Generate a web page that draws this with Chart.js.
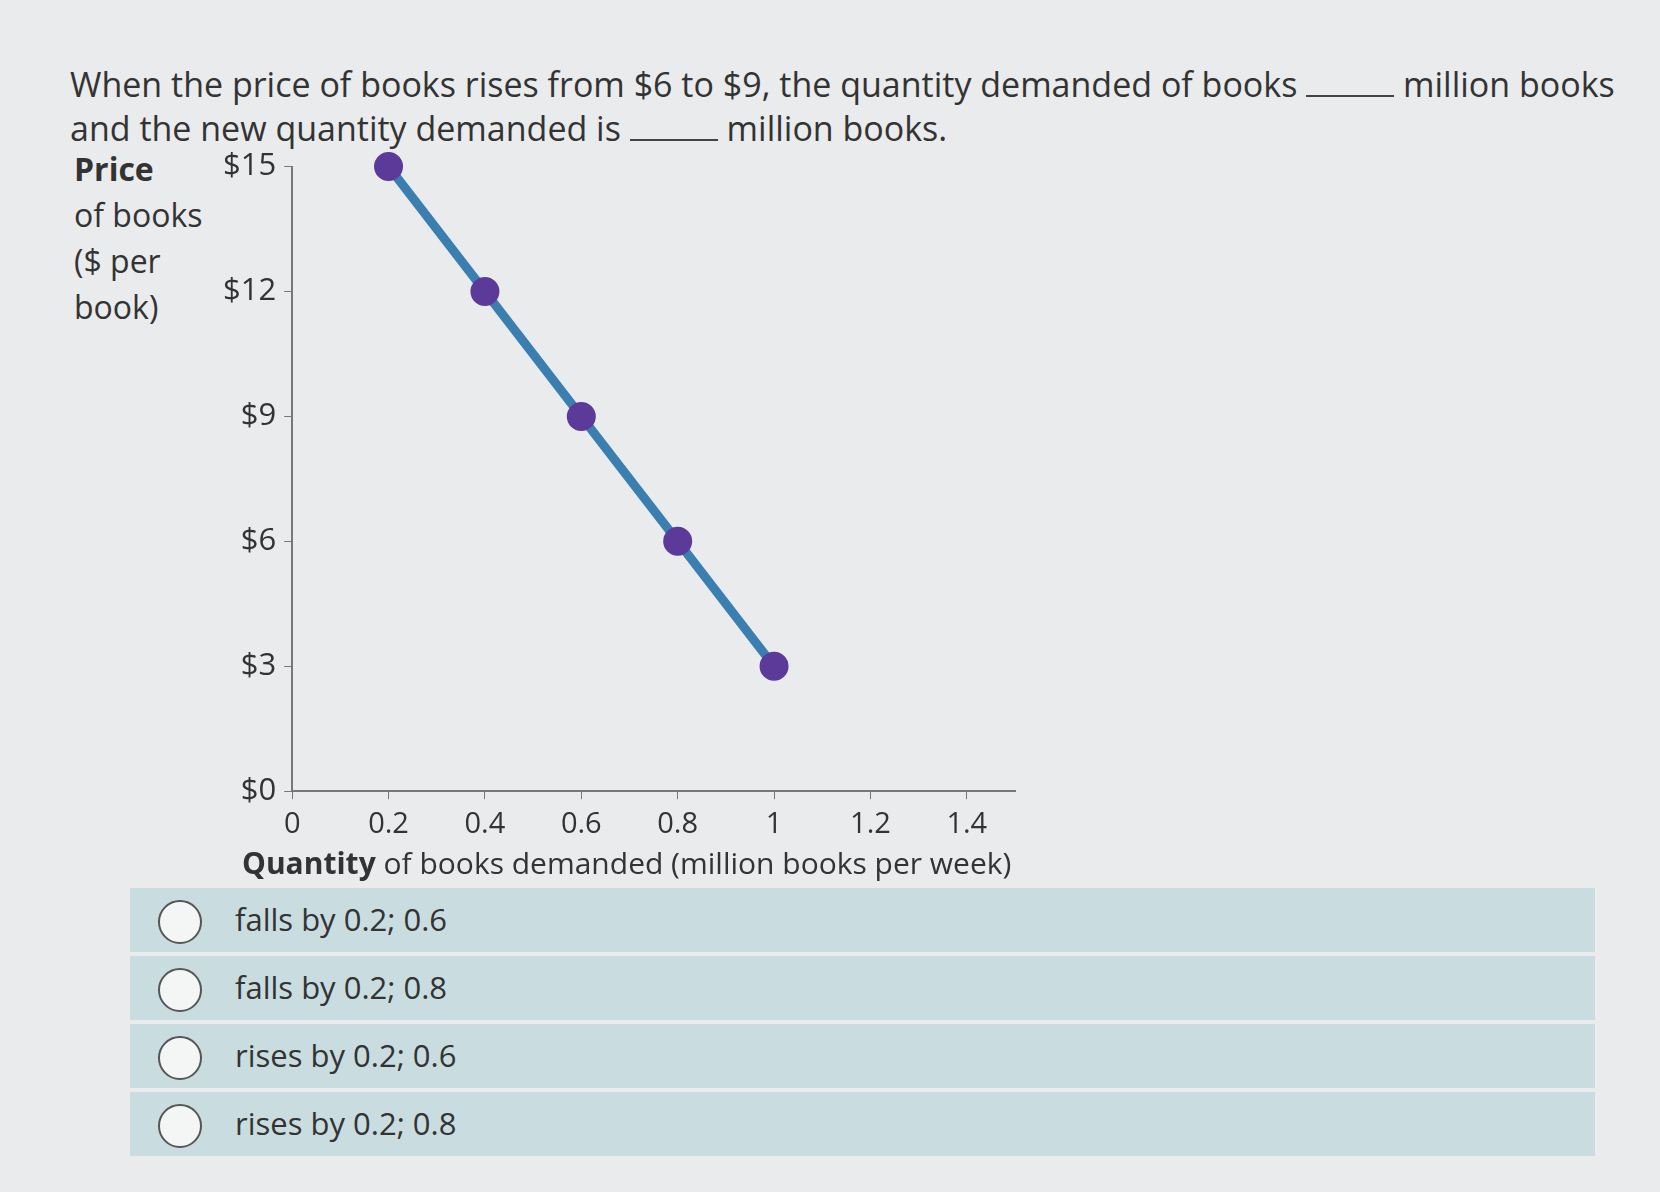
<!DOCTYPE html>
<html><head><meta charset="utf-8">
<script src="https://cdn.jsdelivr.net/npm/chart.js@4"></script>
<style>
body{margin:0;width:1660px;height:1192px;background:#e9ebec;font-family:"Open Sans",sans-serif;color:#333;position:relative;overflow:hidden}
#q{position:absolute;left:70px;top:62px;width:1600px;font-size:34px;line-height:44px}
.blank{display:inline-block;width:88px;border-bottom:2px solid #444}
#ylab{position:absolute;left:74px;top:146px;font-size:32px;line-height:46px}
#xlab{position:absolute;left:242px;top:842px;font-size:30px}
#wrap{position:absolute;left:215px;top:140px;width:820px;height:710px}
.opt{position:absolute;left:130px;width:1465px;height:64px;background:#c9dde1;font-size:31px}
.opt span.c{position:absolute;left:28px;top:12px;width:40px;height:40px;border:2px solid #555;border-radius:50%;background:#f4f6f6}
.opt span.t{position:absolute;left:105px;top:10px}
</style></head><body>
<div id="q">When the price of books rises from $6 to $9, the quantity demanded of books <span class="blank"></span> million books and the new quantity demanded is <span class="blank"></span> million books.</div>
<div id="ylab"><b>Price</b><br>of books<br>($ per<br>book)</div>
<div id="wrap"><canvas id="c"></canvas></div>
<div id="xlab"><b>Quantity</b> of books demanded (million books per week)</div>
<div class="opt" style="top:888px"><span class="c"></span><span class="t">falls by 0.2; 0.6</span></div>
<div class="opt" style="top:956px"><span class="c"></span><span class="t">falls by 0.2; 0.8</span></div>
<div class="opt" style="top:1024px"><span class="c"></span><span class="t">rises by 0.2; 0.6</span></div>
<div class="opt" style="top:1092px"><span class="c"></span><span class="t">rises by 0.2; 0.8</span></div>
<script>
const quantities=[0.2,0.4,0.6,0.8,1.0];
const prices=[15,12,9,6,3];
const yTicks=[0,3,6,9,12,15];
const xTicks=[0,0.2,0.4,0.6,0.8,1,1.2,1.4];
new Chart(document.getElementById('c'),{
type:'scatter',
data:{datasets:[{data:quantities.map((q,i)=>({x:q,y:prices[i]})),showLine:true,borderColor:'#3b7fb0',borderWidth:9,pointBackgroundColor:'#5b3a9a',pointBorderColor:'#5b3a9a',pointRadius:10}]},
options:{responsive:true,maintainAspectRatio:false,animation:false,clip:false,
layout:{padding:{right:20,top:22}},
plugins:{legend:{display:false},tooltip:{enabled:false}},
scales:{
x:{type:'linear',min:0,max:1.5,afterBuildTicks:a=>{a.ticks=xTicks.map(v=>({value:v}))},
grid:{display:true,drawOnChartArea:false,drawTicks:true,tickLength:8,tickColor:'#777'},border:{color:'#777',width:2},
ticks:{color:'#333',font:{size:29,family:'Open Sans'},callback:v=>String(v),padding:8}},
y:{min:0,max:15,afterBuildTicks:a=>{a.ticks=yTicks.map(v=>({value:v}))},
grid:{display:true,drawOnChartArea:false,tickLength:8,tickColor:'#777'},border:{color:'#777',width:2},
ticks:{color:'#333',font:{size:31,family:'Open Sans'},callback:v=>'$'+v,padding:8}}
}}});
</script></body></html>
